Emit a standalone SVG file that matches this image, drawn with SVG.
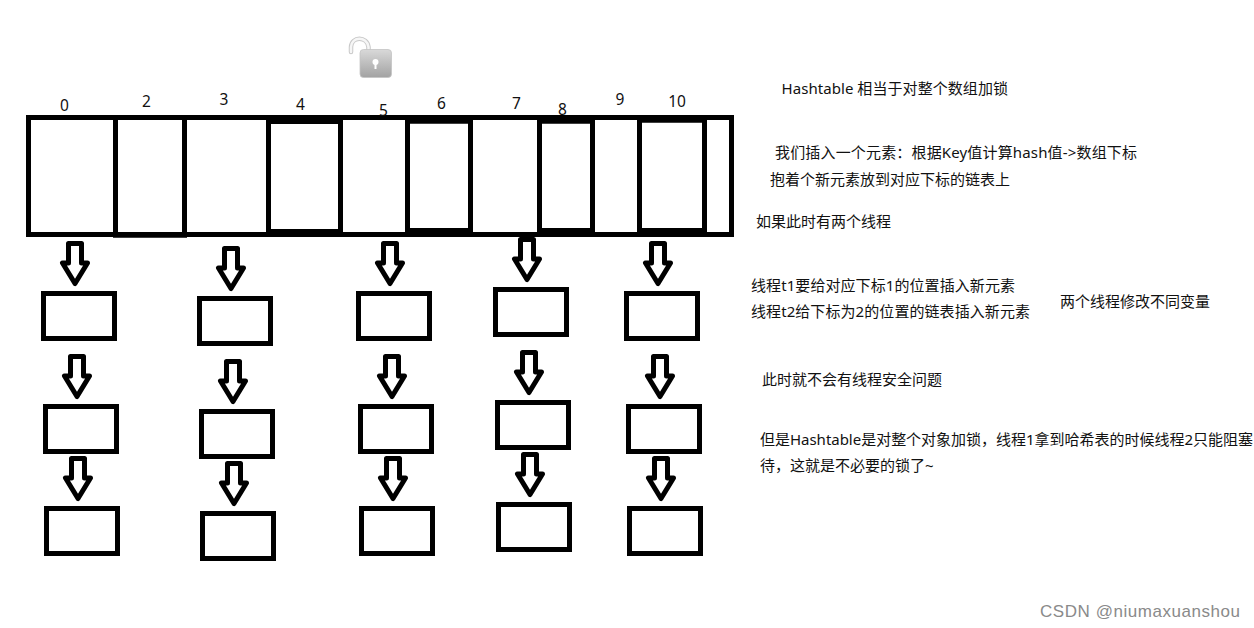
<svg xmlns="http://www.w3.org/2000/svg" width="1254" height="628" viewBox="0 0 1254 628">
<style>
text{font-family:"Noto Sans","Noto Sans CJK SC",sans-serif;font-size:15px;fill:#111}
.l{font-size:15.7px}
.n{font-size:15.5px;text-anchor:middle}
.cell{fill:#fff;stroke:#000;stroke-width:5}
.box{fill:#fff;stroke:#000;stroke-width:5}
.arr{fill:#fff;stroke:#000;stroke-width:5;stroke-linejoin:round}
.wm{font-family:"Liberation Sans",Arial,sans-serif;font-size:17px;fill:#8a8a8a;letter-spacing:.55px}
</style>
<defs>
<linearGradient id="lb" x1="0" y1="0" x2="0" y2="1"><stop offset="0" stop-color="#d9d9d9"/><stop offset="1" stop-color="#a2a2a2"/></linearGradient>
<path id="a" class="arr" d="M-6.500 2.500H6.500V22H12.500L0 42.500L-12.500 22H-6.500Z"/>
</defs>
<rect width="1254" height="628" fill="#fff"/>
<g id="lock">
<path d="M351 52V47C351.500 36 367 36 368.500 47V50" fill="none" stroke="#c8c8c8" stroke-width="4.500" stroke-linecap="round"/>
<path d="M351 52V47C351.500 36 367 36 368.500 47V50" fill="none" stroke="#f6f6f6" stroke-width="2.500" stroke-linecap="round"/>
<rect x="360" y="49.500" width="31.500" height="28" rx="3.500" fill="url(#lb)" stroke="#c4c4c4" stroke-width=".8"/>
<circle cx="375.500" cy="62" r="3" fill="#fff"/>
<rect x="374.500" y="62" width="2" height="7" fill="#fff"/>
</g>
<g id="array">
<rect class="cell" x="28.500" y="117.500" width="703" height="117"/>
<path d="M115.500 117V237M184.500 117V237M268.500 117V234M340.500 117V234M407.500 117V234M470.500 117V234M539.500 117V234M592.500 117V234M639.500 117V234M704.500 117V234" fill="none" stroke="#000" stroke-width="5"/>
<path d="M113 232.500H187V237.700H113ZM266 116H343V124H266ZM266 229H343V236H266ZM405 116H473V123.700H405ZM405 228H469V236.700H405ZM537 116H595V123.700H537ZM537 228H595V236H537ZM637 116H707V122.700H637ZM628 232H707V236H628ZM637 228H707V233H637ZM113 116H187V120H113Z" fill="#000"/>
</g>
<g id="indices">
<text class="n" x="64.500" y="111">0</text><text class="n" x="146.500" y="107">2</text><text class="n" x="224" y="105">3</text><text class="n" x="300.500" y="110">4</text><text class="n" x="383.500" y="116">5</text><text class="n" x="441.500" y="109">6</text><text class="n" x="516.500" y="109">7</text><text class="n" x="562.500" y="115">8</text><text class="n" x="620" y="105">9</text><text class="n" x="677" y="107">10</text>
</g>
<g id="node-0-1"><rect class="box" x="43.500" y="293.500" width="71" height="45"/></g>
<g id="node-0-2"><rect class="box" x="45.500" y="406.500" width="71" height="45"/></g>
<g id="node-0-3"><rect class="box" x="46.500" y="508.500" width="71" height="45"/></g>
<g id="node-1-1"><rect class="box" x="199.500" y="298.500" width="71" height="45"/></g>
<g id="node-1-2"><rect class="box" x="201.500" y="411.500" width="71" height="45"/></g>
<g id="node-1-3"><rect class="box" x="202.500" y="513.500" width="71" height="45"/></g>
<g id="node-2-1"><rect class="box" x="358.500" y="293.500" width="71" height="45"/></g>
<g id="node-2-2"><rect class="box" x="360.500" y="406.500" width="71" height="45"/></g>
<g id="node-2-3"><rect class="box" x="361.500" y="508.500" width="71" height="45"/></g>
<g id="node-3-1"><rect class="box" x="495.500" y="289.500" width="71" height="45"/></g>
<g id="node-3-2"><rect class="box" x="497.500" y="402.500" width="71" height="45"/></g>
<g id="node-3-3"><rect class="box" x="498.500" y="504.500" width="71" height="45"/></g>
<g id="node-4-1"><rect class="box" x="626.500" y="293.500" width="71" height="45"/></g>
<g id="node-4-2"><rect class="box" x="628.500" y="406.500" width="71" height="45"/></g>
<g id="node-4-3"><rect class="box" x="629.500" y="508.500" width="71" height="45"/></g>
<g id="connectors">
<use href="#a" x="75" y="241"/><use href="#a" x="77" y="354"/><use href="#a" x="78" y="456"/>
<use href="#a" x="231" y="246"/><use href="#a" x="233" y="359"/><use href="#a" x="234" y="461"/>
<use href="#a" x="390" y="241"/><use href="#a" x="392" y="354"/><use href="#a" x="393" y="456"/>
<use href="#a" x="527" y="237"/><use href="#a" x="529" y="350"/><use href="#a" x="530" y="452"/>
<use href="#a" x="658" y="241"/><use href="#a" x="660" y="354"/><use href="#a" x="661" y="456"/>
</g>
<g id="notes">
<text x="781.500" y="94" textLength="226.500">Hashtable 相当于对整个数组加锁</text>
<text x="775" y="158" textLength="362">我们插入一个元素：根据Key值计算hash值-&gt;数组下标</text>
<text x="770" y="185">抱着个新元素放到对应下标的链表上</text>
<text x="756" y="227">如果此时有两个线程</text>
<text x="751" y="291" textLength="264">线程t1要给对应下标1的位置插入新元素</text>
<text x="751" y="317" textLength="279">线程t2给下标为2的位置的链表插入新元素</text>
<text x="1060" y="307">两个线程修改不同变量</text>
<text x="762" y="385">此时就不会有线程安全问题</text>
<text x="760" y="445" textLength="493">但是Hashtable是对整个对象加锁，线程1拿到哈希表的时候线程2只能阻塞</text>
<text x="760" y="471">待，这就是不必要的锁了~</text>
<text class="wm" x="1040" y="617">CSDN @niumaxuanshou</text>
</g>
</svg>
